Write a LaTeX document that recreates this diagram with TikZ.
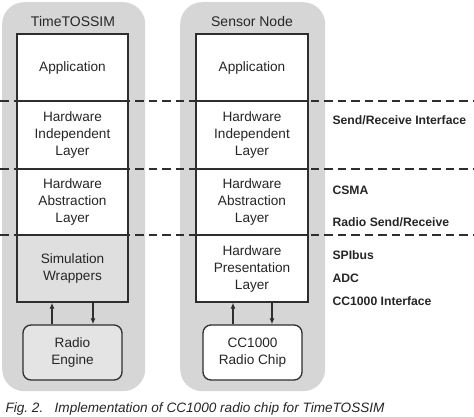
\documentclass[tikz,border=0pt]{standalone}
\usepackage{fontspec}
\setmainfont{Liberation Sans}
\usetikzlibrary{arrows.meta}
\definecolor{contgray}{HTML}{D6D6D6}
\definecolor{wrapgray}{HTML}{DFDFDF}
\definecolor{enggray}{HTML}{E4E4E4}
\definecolor{edge}{HTML}{2E2E2E}
\definecolor{txt}{HTML}{262626}
\begin{document}
\begin{tikzpicture}[x=1pt,y=-1pt,
  container/.style={fill=contgray,draw=none,rounded corners=22pt},
  layer/.style={draw=edge,line width=1.3pt,fill=white,inner sep=0pt,align=center,
     font=\fontsize{13.6}{17}\selectfont,text=txt},
  chip/.style={layer,rounded corners=8pt},
  title/.style={font=\fontsize{14}{16}\selectfont,text=txt},
  sep/.style={draw=edge,line width=1.6pt,dash pattern=on 8.5pt off 5pt},
  arr/.style={draw=edge,line width=1.3pt,-{Latex[length=6pt,width=5pt]}},
  side/.style={anchor=west,font=\bfseries\fontsize{12.2}{14}\selectfont,text=txt},
  captext/.style={anchor=base west,font=\itshape\fontsize{13.6}{16}\selectfont,text=txt}]
\useasboundingbox (0,0) rectangle (474,417);
% containers
\node[container,minimum width=143pt,minimum height=389pt,anchor=north west] (cL) at (2,2) {};
\node[container,minimum width=145pt,minimum height=389pt,anchor=north west] (cR) at (180,2) {};
\node[title] (tL) at (73,21) {TimeTOSSIM};
\node[title] (tR) at (252,21) {Sensor Node};
% dashed separators
\coordinate (d1a) at (0,101); \coordinate (d1b) at (474,101);
\coordinate (d2a) at (0,169); \coordinate (d2b) at (474,169);
\coordinate (d3a) at (0,235); \coordinate (d3b) at (474,235);
\draw[sep] (d1a) -- (d1b);
\draw[sep] (d2a) -- (d2b);
\draw[sep] (d3a) -- (d3b);
% left stack
\node[layer,minimum width=111pt,minimum height=67pt] (appL) at (72.5,67.5) {Application};
\node[layer,minimum width=111pt,minimum height=68pt] (hilL) at (72.5,135) {Hardware\\Independent\\Layer};
\node[layer,minimum width=111pt,minimum height=66pt] (halL) at (72.5,202) {Hardware\\Abstraction\\Layer};
\node[layer,fill=wrapgray,minimum width=111pt,minimum height=67pt] (sw) at (72.5,268.5) {Simulation\\Wrappers};
\node[chip,fill=enggray,minimum width=99pt,minimum height=55pt] (re) at (72.5,352.5) {Radio\\Engine};
% right stack
\node[layer,minimum width=112pt,minimum height=67pt] (appR) at (252,67.5) {Application};
\node[layer,minimum width=112pt,minimum height=68pt] (hilR) at (252,135) {Hardware\\Independent\\Layer};
\node[layer,minimum width=112pt,minimum height=66pt] (halR) at (252,202) {Hardware\\Abstraction\\Layer};
\node[layer,minimum width=112pt,minimum height=67pt] (hpl) at (252,268.5) {Hardware\\Presentation\\Layer};
\node[chip,minimum width=99pt,minimum height=55pt] (cc) at (252.5,352.5) {CC1000\\Radio Chip};
% arrows
\coordinate (xL1) at (52,0); \coordinate (xL2) at (93,0);
\coordinate (xR1) at (233,0); \coordinate (xR2) at (272,0);
\draw[arr] (re.north -| xL1) -- (sw.south -| xL1);
\draw[arr] (sw.south -| xL2) -- (re.north -| xL2);
\draw[arr] (cc.north -| xR1) -- (hpl.south -| xR1);
\draw[arr] (hpl.south -| xR2) -- (cc.north -| xR2);
% side labels
\node[side] (l1) at (329,120) {Send/Receive Interface};
\node[side] (l2) at (329,190) {CSMA};
\node[side] (l3) at (329,222) {Radio Send/Receive};
\node[side] (l4) at (329,255) {SPIbus};
\node[side] (l5) at (329,278) {ADC};
\node[side] (l6) at (329,301) {CC1000 Interface};
% caption
\node[captext] (caption) at (2,412.5) {Fig.\ 2.\ \ \ Implementation of CC1000 radio chip for TimeTOSSIM};
\end{tikzpicture}
\end{document}
